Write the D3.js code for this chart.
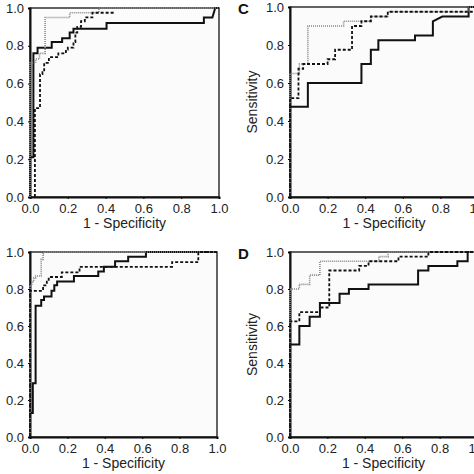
<!DOCTYPE html>
<html><head><meta charset="utf-8">
<script src="https://cdn.jsdelivr.net/npm/d3@7"></script>
<style>body{margin:0;background:#fff}</style></head>
<body><svg id="c" width="474" height="474"></svg>
<script>
const ticks = [0,0.2,0.4,0.6,0.8,1.0];
// Panel A
const aSolid=[[0,0],[0,0.21],[0.018,0.21],[0.018,0.71],[0.018,0.76],[0.04,0.76],[0.04,0.79],[0.115,0.79],[0.115,0.82],[0.17,0.82],[0.17,0.84],[0.21,0.84],[0.21,0.87],[0.23,0.87],[0.23,0.89],[0.405,0.89],[0.405,0.92],[0.92,0.92],[0.92,0.95],[0.965,0.95],[0.98,1],[1,1]];
const aDot=[[0,0],[0,0.71],[0.03,0.71],[0.03,0.73],[0.05,0.73],[0.05,0.76],[0.08,0.76],[0.08,0.95],[0.21,0.95],[0.21,0.975],[0.365,0.975],[0.365,1],[1,1]];
const aDash=[[0.026,0],[0.026,0.47],[0.053,0.47],[0.053,0.65],[0.066,0.65],[0.066,0.66],[0.075,0.66],[0.075,0.71],[0.1,0.71],[0.1,0.74],[0.15,0.74],[0.15,0.76],[0.19,0.76],[0.19,0.78],[0.2,0.78],[0.2,0.79],[0.23,0.79],[0.23,0.82],[0.24,0.82],[0.24,0.87],[0.25,0.87],[0.25,0.9],[0.27,0.9],[0.27,0.93],[0.29,0.93],[0.29,0.95],[0.33,0.95],[0.33,0.975],[0.45,0.975]];
// Panel C
const cSolid=[[0,0],[0,0.475],[0.095,0.475],[0.095,0.6],[0.38,0.6],[0.38,0.7],[0.43,0.7],[0.43,0.775],[0.47,0.775],[0.47,0.825],[0.665,0.825],[0.665,0.85],[0.76,0.85],[0.76,0.925],[0.81,0.95],[0.95,0.95],[0.95,1],[1,1]];
const cDot=[[0,0],[0,0.65],[0.05,0.65],[0.05,0.7],[0.095,0.7],[0.095,0.9],[0.285,0.9],[0.285,0.925],[0.43,0.925],[0.43,0.95],[0.52,0.95],[0.52,0.975],[0.95,0.975],[0.95,1],[1,1]];
const cDash=[[0,0],[0,0.52],[0.045,0.52],[0.045,0.675],[0.07,0.675],[0.07,0.7],[0.2,0.7],[0.2,0.725],[0.24,0.725],[0.24,0.775],[0.33,0.775],[0.33,0.9],[0.38,0.9],[0.38,0.925],[0.43,0.925],[0.43,0.95],[0.52,0.95],[0.52,0.975],[1,0.975]];
// Panel B
const bSolid=[[0,0],[0,0.13],[0.015,0.13],[0.015,0.29],[0.03,0.29],[0.03,0.71],[0.06,0.71],[0.06,0.74],[0.075,0.74],[0.075,0.76],[0.115,0.76],[0.115,0.79],[0.13,0.79],[0.13,0.82],[0.145,0.82],[0.145,0.84],[0.235,0.84],[0.235,0.87],[0.365,0.87],[0.365,0.895],[0.395,0.895],[0.395,0.92],[0.455,0.92],[0.455,0.95],[0.525,0.95],[0.525,0.975],[0.62,0.975],[0.62,1],[1,1]];
const bDot=[[0,0],[0,0.82],[0.01,0.82],[0.01,0.84],[0.02,0.84],[0.02,0.86],[0.03,0.86],[0.03,0.87],[0.06,0.87],[0.06,0.96],[0.07,0.96],[0.07,0.99],[0.075,0.99],[0.075,1],[1,1]];
const bDash=[[0,0],[0,0.79],[0.07,0.79],[0.07,0.82],[0.09,0.82],[0.09,0.84],[0.1,0.84],[0.1,0.865],[0.17,0.865],[0.17,0.89],[0.265,0.89],[0.265,0.92],[0.76,0.92],[0.76,0.945],[0.9,0.945],[0.9,1],[1,1]];
// Panel D
const dSolid=[[0,0],[0,0.5],[0.05,0.5],[0.05,0.6],[0.105,0.6],[0.105,0.65],[0.16,0.65],[0.16,0.725],[0.265,0.725],[0.265,0.775],[0.315,0.775],[0.315,0.8],[0.42,0.8],[0.42,0.825],[0.685,0.825],[0.685,0.9],[0.74,0.9],[0.74,0.925],[0.895,0.925],[0.895,0.95],[0.95,0.95],[0.95,1],[1,1]];
const dDot=[[0,0],[0,0.8],[0.05,0.8],[0.05,0.825],[0.105,0.825],[0.105,0.875],[0.16,0.875],[0.16,0.95],[0.475,0.95],[0.475,0.975],[0.525,0.975],[0.525,1],[1,1]];
const dDash=[[0,0],[0,0.625],[0.05,0.625],[0.05,0.675],[0.16,0.675],[0.16,0.7],[0.21,0.7],[0.21,0.9],[0.37,0.9],[0.37,0.925],[0.42,0.925],[0.42,0.95],[0.58,0.95],[0.58,0.975],[0.74,0.975],[0.74,1],[1,1]];

const svg=d3.select('#c');
const font='Liberation Sans, Arial, sans-serif';
function panel(x0,x1,yt,yb,series,letter){
  const g=svg.append('g');
  const x=d3.scaleLinear().domain([0,1]).range([x0,x1]);
  const y=d3.scaleLinear().domain([0,1]).range([yb,yt]);
  g.append('rect').attr('x',x0).attr('y',yt).attr('width',x1-x0).attr('height',yb-yt).attr('fill','#fbfbfb').attr('stroke','#111').attr('stroke-width',1.3);
  const xa=g.append('g').attr('transform',`translate(0,${yb})`).call(d3.axisBottom(x).tickValues(ticks).tickFormat(d3.format('.1f')).tickSize(2).tickPadding(5));
  const ya=g.append('g').attr('transform',`translate(${x0},0)`).call(d3.axisLeft(y).tickValues(ticks).tickFormat(d3.format('.1f')).tickSize(2).tickPadding(4));
  [xa,ya].forEach(a=>{a.select('.domain').attr('stroke','#111').attr('stroke-width',2);a.selectAll('text').attr('font-family',font).attr('font-size',13).attr('fill','#222');});
  const line=d3.line().x(d=>x(d[0])).y(d=>y(d[1]));
  const styles=[{c:'#111',w:2,da:null},{c:'#888',w:1.6,da:'1,1'},{c:'#111',w:1.8,da:'3,2'}];
  series.forEach((s,i)=>{
    g.append('path').attr('d',line(s)).attr('fill','none').attr('stroke',styles[i].c).attr('stroke-width',styles[i].w).attr('stroke-dasharray',styles[i].da);
  });
  g.append('text').attr('x',(x0+x1)/2).attr('y',yb+31).attr('text-anchor','middle').attr('font-family',font).attr('font-size',14).attr('fill','#222').text('1 - Specificity');
  if(letter){
    g.append('text').attr('transform',`translate(${x0-33},${(yt+yb)/2}) rotate(-90)`).attr('text-anchor','middle').attr('font-family',font).attr('font-size',14).attr('fill','#222').text('Sensitivity');
    g.append('text').attr('x',x0-52).attr('y',yt+7).attr('font-family',font).attr('font-weight','bold').attr('font-size',15).attr('fill','#111').text(letter);
  }
}
panel(30,219,8,197,[aSolid,aDot,aDash],null);
panel(290,478,7,197,[cSolid,cDot,cDash],'C');
panel(30,217,252,437,[bSolid,bDot,bDash],null);
panel(290,477,252,437,[dSolid,dDot,dDash],'D');
</script></body></html>
